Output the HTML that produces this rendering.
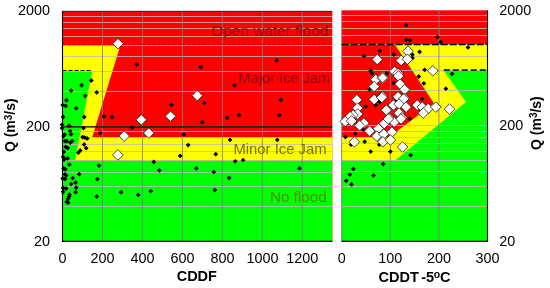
<!DOCTYPE html><html><head><meta charset="utf-8"><title>Ice jam flood chart</title>
<style>html,body{margin:0;padding:0;background:#fff}svg{display:block}text{font-family:"Liberation Sans",Arial,sans-serif}</style></head><body>
<svg width="550" height="288" viewBox="0 0 550 288">
<rect width="550" height="288" fill="#fff"/>
<rect x="62.5" y="11.2" width="269.8" height="230.10000000000002" fill="#f00"/>
<polygon fill="#ff0" points="62.5,45.6 120.3,45.6 92.2,137.2 332.3,137.2 332.3,160.8 62.5,160.8"/>
<polygon fill="#0f0" points="62.5,71 92.3,71 75,160.8 332.3,160.8 332.3,241.3 62.5,241.3"/>
<rect x="341.7" y="10.3" width="145.8" height="231.0" fill="#f00"/>
<polygon fill="#ff0" points="394.9,44.6 487.5,44.6 487.5,160.5 341.7,160.5 341.7,137.3 389.2,137.3 434,103.3"/>
<polygon fill="#0f0" points="443.5,70.3 487.5,70.3 487.5,241.3 341.7,241.3 341.7,160.5 395,160.5 466,102"/>
<g stroke="#bcbcbc" stroke-width="0.8">
<line x1="62.5" x2="332.3" y1="206.50" y2="206.50"/>
<line x1="341.7" x2="487.5" y1="206.50" y2="206.50"/>
<line x1="62.5" x2="332.3" y1="186.50" y2="186.50"/>
<line x1="341.7" x2="487.5" y1="186.50" y2="186.50"/>
<line x1="62.5" x2="332.3" y1="172.50" y2="172.50"/>
<line x1="341.7" x2="487.5" y1="171.50" y2="171.50"/>
<line x1="62.5" x2="332.3" y1="160.50" y2="160.50"/>
<line x1="341.7" x2="487.5" y1="160.50" y2="160.50"/>
<line x1="62.5" x2="332.3" y1="151.50" y2="151.50"/>
<line x1="341.7" x2="487.5" y1="151.50" y2="151.50"/>
<line x1="62.5" x2="332.3" y1="144.50" y2="144.50"/>
<line x1="341.7" x2="487.5" y1="143.50" y2="143.50"/>
<line x1="62.5" x2="332.3" y1="137.50" y2="137.50"/>
<line x1="341.7" x2="487.5" y1="137.50" y2="137.50"/>
<line x1="62.5" x2="332.3" y1="131.50" y2="131.50"/>
<line x1="341.7" x2="487.5" y1="131.50" y2="131.50"/>
<line x1="62.5" x2="332.3" y1="126.50" y2="126.50"/>
<line x1="341.7" x2="487.5" y1="125.50" y2="125.50"/>
<line x1="62.5" x2="332.3" y1="91.50" y2="91.50"/>
<line x1="341.7" x2="487.5" y1="90.50" y2="90.50"/>
<line x1="62.5" x2="332.3" y1="71.50" y2="71.50"/>
<line x1="341.7" x2="487.5" y1="70.50" y2="70.50"/>
<line x1="62.5" x2="332.3" y1="56.50" y2="56.50"/>
<line x1="341.7" x2="487.5" y1="56.50" y2="56.50"/>
<line x1="62.5" x2="332.3" y1="45.50" y2="45.50"/>
<line x1="341.7" x2="487.5" y1="44.50" y2="44.50"/>
<line x1="62.5" x2="332.3" y1="36.50" y2="36.50"/>
<line x1="341.7" x2="487.5" y1="35.50" y2="35.50"/>
<line x1="62.5" x2="332.3" y1="28.50" y2="28.50"/>
<line x1="341.7" x2="487.5" y1="28.50" y2="28.50"/>
<line x1="62.5" x2="332.3" y1="22.50" y2="22.50"/>
<line x1="341.7" x2="487.5" y1="21.50" y2="21.50"/>
<line x1="62.5" x2="332.3" y1="16.50" y2="16.50"/>
<line x1="341.7" x2="487.5" y1="15.50" y2="15.50"/>
</g>
<g stroke="#7e7e86" stroke-width="1" opacity="0.85">
<line x1="102.47" x2="102.47" y1="11.2" y2="241.3"/>
<line x1="142.44" x2="142.44" y1="11.2" y2="241.3"/>
<line x1="182.41" x2="182.41" y1="11.2" y2="241.3"/>
<line x1="222.38" x2="222.38" y1="11.2" y2="241.3"/>
<line x1="262.35" x2="262.35" y1="11.2" y2="241.3"/>
<line x1="302.32" x2="302.32" y1="11.2" y2="241.3"/>
<line x1="341.70" x2="341.70" y1="10.3" y2="241.3"/>
<line x1="390.30" x2="390.30" y1="10.3" y2="241.3"/>
<line x1="438.90" x2="438.90" y1="10.3" y2="241.3"/>
</g>
<text x="211.6" y="36.2" font-size="14.2" fill="#880010" textLength="116.9" lengthAdjust="spacingAndGlyphs">Open water flood</text>
<text x="238.6" y="83.1" font-size="14.2" fill="#880010" textLength="91.7" lengthAdjust="spacingAndGlyphs">Major Ice Jam</text>
<text x="233.4" y="154.2" font-size="14.2" fill="#787000" textLength="93.3" lengthAdjust="spacingAndGlyphs">Minor Ice Jam</text>
<text x="269.9" y="202.1" font-size="14.2" fill="#558c00" textLength="56.8" lengthAdjust="spacingAndGlyphs">No flood</text>
<line x1="62.5" x2="332.3" y1="44.8" y2="44.8" stroke="#400" stroke-width="0.6" stroke-dasharray="3 2" opacity="0.75"/>
<line x1="62.5" x2="92.3" y1="70.5" y2="70.5" stroke="#000" stroke-width="1.2" stroke-dasharray="4 2"/>
<line x1="62.5" x2="332.3" y1="126.8" y2="126.8" stroke="#000" stroke-width="1.3"/>
<line x1="341.7" x2="487.5" y1="44.5" y2="44.5" stroke="#000" stroke-width="1.5" stroke-dasharray="7 2"/>
<line x1="443.8" x2="487.5" y1="70.1" y2="70.1" stroke="#000" stroke-width="1.5" stroke-dasharray="6 3"/>
<line x1="62.0" x2="332.3" y1="10.75" y2="10.75" stroke="#c4d2d2" stroke-width="0.9"/>
<line x1="62.0" x2="332.3" y1="11.5" y2="11.5" stroke="#200" stroke-width="0.7"/>
<line x1="62.5" x2="62.5" y1="11.2" y2="241.9" stroke="#000" stroke-width="1.1"/>
<line x1="62.0" x2="332.3" y1="241.3" y2="241.3" stroke="#000" stroke-width="1.2"/>
<line x1="341.7" x2="488.0" y1="241.3" y2="241.3" stroke="#000" stroke-width="1.2"/>
<line x1="487.5" x2="487.5" y1="10.3" y2="241.9" stroke="#000" stroke-width="1.1"/>
<path fill="#000" d="M88.9,80.5L91.3,78.1L93.7,80.5L91.3,82.9ZM79.2,85.3L81.6,82.9L84.0,85.3L81.6,87.7ZM68.7,90.6L71.1,88.2L73.5,90.6L71.1,93.0ZM94.3,92.4L96.7,90.0L99.1,92.4L96.7,94.8ZM82.8,95.8L85.2,93.4L87.6,95.8L85.2,98.2ZM64.1,100.3L66.5,97.9L68.9,100.3L66.5,102.7ZM60.3,104.9L62.7,102.5L65.1,104.9L62.7,107.3ZM63.3,105.9L65.7,103.5L68.1,105.9L65.7,108.3ZM73.8,108.3L76.2,105.9L78.6,108.3L76.2,110.7ZM60.7,117.0L63.1,114.6L65.5,117.0L63.1,119.4ZM81.8,117.0L84.2,114.6L86.6,117.0L84.2,119.4ZM101.6,116.4L104.0,114.0L106.4,116.4L104.0,118.8ZM109.7,117.0L112.1,114.6L114.5,117.0L112.1,119.4ZM59.6,124.8L62.0,122.4L64.4,124.8L62.0,127.2ZM66.7,125.6L69.1,123.2L71.5,125.6L69.1,128.0ZM59.6,128.1L62.0,125.7L64.4,128.1L62.0,130.5ZM81.1,128.1L83.5,125.7L85.9,128.1L83.5,130.5ZM67.7,131.1L70.1,128.7L72.5,131.1L70.1,133.5ZM97.9,133.1L100.3,130.7L102.7,133.1L100.3,135.5ZM62.2,134.6L64.6,132.2L67.0,134.6L64.6,137.0ZM68.5,134.3L70.9,131.9L73.3,134.3L70.9,136.7ZM61.2,136.1L63.6,133.7L66.0,136.1L63.6,138.5ZM80.3,137.1L82.7,134.7L85.1,137.1L82.7,139.5ZM82.3,137.6L84.7,135.2L87.1,137.6L84.7,140.0ZM84.8,138.4L87.2,136.0L89.6,138.4L87.2,140.8ZM62.7,141.2L65.1,138.8L67.5,141.2L65.1,143.6ZM64.2,141.2L66.6,138.8L69.0,141.2L66.6,143.6ZM69.7,141.0L72.1,138.6L74.5,141.0L72.1,143.4ZM67.9,142.7L70.3,140.3L72.7,142.7L70.3,145.1ZM81.8,144.5L84.2,142.1L86.6,144.5L84.2,146.9ZM63.2,146.8L65.6,144.4L68.0,146.8L65.6,149.2ZM65.2,148.0L67.6,145.6L70.0,148.0L67.6,150.4ZM83.8,148.2L86.2,145.8L88.6,148.2L86.2,150.6ZM77.8,150.5L80.2,148.1L82.6,150.5L80.2,152.9ZM76.0,152.6L78.4,150.2L80.8,152.6L78.4,155.0ZM61.5,151.8L63.9,149.4L66.3,151.8L63.9,154.2ZM60.7,156.9L63.1,154.5L65.5,156.9L63.1,159.3ZM65.2,158.3L67.6,155.9L70.0,158.3L67.6,160.7ZM61.7,159.6L64.1,157.2L66.5,159.6L64.1,162.0ZM66.9,164.6L69.3,162.2L71.7,164.6L69.3,167.0ZM96.7,165.6L99.1,163.2L101.5,165.6L99.1,168.0ZM61.2,168.4L63.6,166.0L66.0,168.4L63.6,170.8ZM62.9,169.2L65.3,166.8L67.7,169.2L65.3,171.6ZM76.8,174.2L79.2,171.8L81.6,174.2L79.2,176.6ZM62.6,174.3L65.0,171.9L67.4,174.3L65.0,176.7ZM129.8,127.5L132.2,125.1L134.6,127.5L132.2,129.9ZM151.4,162.0L153.8,159.6L156.2,162.0L153.8,164.4ZM157.0,170.3L159.4,167.9L161.8,170.3L159.4,172.7ZM63.7,175.6L66.1,173.2L68.5,175.6L66.1,178.0ZM60.3,178.5L62.7,176.1L65.1,178.5L62.7,180.9ZM62.7,179.1L65.1,176.7L67.5,179.1L65.1,181.5ZM70.3,178.1L72.7,175.7L75.1,178.1L72.7,180.5ZM94.9,179.1L97.3,176.7L99.7,179.1L97.3,181.5ZM73.2,182.5L75.6,180.1L78.0,182.5L75.6,184.9ZM68.7,184.1L71.1,181.7L73.5,184.1L71.1,186.5ZM73.8,187.7L76.2,185.3L78.6,187.7L76.2,190.1ZM60.7,188.1L63.1,185.7L65.5,188.1L63.1,190.5ZM63.7,188.5L66.1,186.1L68.5,188.5L66.1,190.9ZM60.7,191.8L63.1,189.4L65.5,191.8L63.1,194.2ZM73.2,192.2L75.6,189.8L78.0,192.2L75.6,194.6ZM118.7,192.2L121.1,189.8L123.5,192.2L121.1,194.6ZM148.4,191.2L150.8,188.8L153.2,191.2L150.8,193.6ZM135.7,194.8L138.1,192.4L140.5,194.8L138.1,197.2ZM67.1,194.6L69.5,192.2L71.9,194.6L69.5,197.0ZM66.7,196.6L69.1,194.2L71.5,196.6L69.1,199.0ZM94.3,196.6L96.7,194.2L99.1,196.6L96.7,199.0ZM65.7,198.8L68.1,196.4L70.5,198.8L68.1,201.2ZM64.3,201.9L66.7,199.5L69.1,201.9L66.7,204.3ZM65.7,202.7L68.1,200.3L70.5,202.7L68.1,205.1ZM134.6,64.3L137.0,61.9L139.4,64.3L137.0,66.7ZM198.5,67.2L200.9,64.8L203.3,67.2L200.9,69.6ZM232.2,85.4L234.6,83.0L237.0,85.4L234.6,87.8ZM169.1,104.8L171.5,102.4L173.9,104.8L171.5,107.2ZM202.0,103.1L204.4,100.7L206.8,103.1L204.4,105.5ZM224.7,117.9L227.1,115.5L229.5,117.9L227.1,120.3ZM236.8,115.2L239.2,112.8L241.6,115.2L239.2,117.6ZM199.9,122.3L202.3,119.9L204.7,122.3L202.3,124.7ZM181.4,134.5L183.8,132.1L186.2,134.5L183.8,136.9ZM227.6,139.8L230.0,137.4L232.4,139.8L230.0,142.2ZM185.8,145.1L188.2,142.7L190.6,145.1L188.2,147.5ZM213.4,154.2L215.8,151.8L218.2,154.2L215.8,156.6ZM177.8,155.8L180.2,153.4L182.6,155.8L180.2,158.2ZM232.8,161.3L235.2,158.9L237.6,161.3L235.2,163.7ZM240.7,160.2L243.1,157.8L245.5,160.2L243.1,162.6ZM193.9,168.3L196.3,165.9L198.7,168.3L196.3,170.7ZM211.4,171.9L213.8,169.5L216.2,171.9L213.8,174.3ZM226.7,178.0L229.1,175.6L231.5,178.0L229.1,180.4ZM212.4,190.1L214.8,187.7L217.2,190.1L214.8,192.5ZM278.5,100.1L280.9,97.7L283.3,100.1L280.9,102.5ZM276.9,115.2L279.3,112.8L281.7,115.2L279.3,117.6ZM274.9,139.8L277.3,137.4L279.7,139.8L277.3,142.2ZM274.3,60.6L276.7,58.2L279.1,60.6L276.7,63.0ZM297.1,168.3L299.5,165.9L301.9,168.3L299.5,170.7ZM403.8,25.1L406.2,22.7L408.6,25.1L406.2,27.5ZM403.8,39.8L406.2,37.4L408.6,39.8L406.2,42.2ZM407.6,40.6L410.0,38.2L412.4,40.6L410.0,43.0ZM435.0,37.2L437.4,34.8L439.8,37.2L437.4,39.6ZM438.2,42.0L440.6,39.6L443.0,42.0L440.6,44.4ZM377.4,50.8L379.8,48.4L382.2,50.8L379.8,53.2ZM361.7,56.2L364.1,53.8L366.5,56.2L364.1,58.6ZM391.5,54.5L393.9,52.1L396.3,54.5L393.9,56.9ZM417.2,51.8L419.6,49.4L422.0,51.8L419.6,54.2ZM410.0,54.7L412.4,52.3L414.8,54.7L412.4,57.1ZM410.0,58.0L412.4,55.6L414.8,58.0L412.4,60.4ZM465.6,47.4L468.0,45.0L470.4,47.4L468.0,49.8ZM368.4,70.8L370.8,68.4L373.2,70.8L370.8,73.2ZM369.5,73.6L371.9,71.2L374.3,73.6L371.9,76.0ZM384.4,73.6L386.8,71.2L389.2,73.6L386.8,76.0ZM367.3,89.6L369.7,87.2L372.1,89.6L369.7,92.0ZM391.5,83.1L393.9,80.7L396.3,83.1L393.9,85.5ZM363.3,106.6L365.7,104.2L368.1,106.6L365.7,109.0ZM377.4,102.0L379.8,99.6L382.2,102.0L379.8,104.4ZM373.3,105.0L375.7,102.6L378.1,105.0L375.7,107.4ZM352.7,133.6L355.1,131.2L357.5,133.6L355.1,136.0ZM343.1,137.1L345.5,134.7L347.9,137.1L345.5,139.5ZM362.3,141.7L364.7,139.3L367.1,141.7L364.7,144.1ZM360.8,129.6L363.2,127.2L365.6,129.6L363.2,132.0ZM348.6,144.6L351.0,142.2L353.4,144.6L351.0,147.0ZM376.9,144.7L379.3,142.3L381.7,144.7L379.3,147.1ZM368.3,151.6L370.7,149.2L373.1,151.6L370.7,154.0ZM388.0,151.6L390.4,149.2L392.8,151.6L390.4,154.0ZM380.9,164.0L383.3,161.6L385.7,164.0L383.3,166.4ZM350.9,169.0L353.3,166.6L355.7,169.0L353.3,171.4ZM347.4,174.6L349.8,172.2L352.2,174.6L349.8,177.0ZM371.1,175.4L373.5,173.0L375.9,175.4L373.5,177.8ZM343.8,180.8L346.2,178.4L348.6,180.8L346.2,183.2ZM349.2,184.4L351.6,182.0L354.0,184.4L351.6,186.8ZM422.3,69.8L424.7,67.4L427.1,69.8L424.7,72.2ZM416.3,76.5L418.7,74.1L421.1,76.5L418.7,78.9ZM421.5,83.4L423.9,81.0L426.3,83.4L423.9,85.8ZM443.5,88.7L445.9,86.3L448.3,88.7L445.9,91.1ZM419.7,99.0L422.1,96.6L424.5,99.0L422.1,101.4ZM407.4,118.9L409.8,116.5L412.2,118.9L409.8,121.3ZM393.1,101.0L395.5,98.6L397.9,101.0L395.5,103.4ZM408.2,155.1L410.6,152.7L413.0,155.1L410.6,157.5ZM449.7,73.8L452.1,71.4L454.5,73.8L452.1,76.2Z"/>
<g fill="#fff" stroke="#000" stroke-width="0.7">
<path d="M112.7,43.7L118.0,38.4L123.3,43.7L118.0,49.0Z"/>
<path d="M136.0,119.8L141.3,114.5L146.6,119.8L141.3,125.1Z"/>
<path d="M118.9,136.1L124.2,130.8L129.5,136.1L124.2,141.4Z"/>
<path d="M143.5,133.1L148.8,127.8L154.1,133.1L148.8,138.4Z"/>
<path d="M112.6,154.9L117.9,149.6L123.2,154.9L117.9,160.2Z"/>
<path d="M192.0,95.6L197.3,90.3L202.6,95.6L197.3,100.9Z"/>
<path d="M165.2,116.3L170.5,111.0L175.8,116.3L170.5,121.6Z"/>
<path d="M372.0,59.5L377.3,54.2L382.6,59.5L377.3,64.8Z"/>
<path d="M402.7,51.2L408.0,45.9L413.3,51.2L408.0,56.5Z"/>
<path d="M395.9,60.5L401.2,55.2L406.5,60.5L401.2,65.8Z"/>
<path d="M402.1,59.3L407.4,54.0L412.7,59.3L407.4,64.6Z"/>
<path d="M389.2,71.5L394.5,66.2L399.8,71.5L394.5,76.8Z"/>
<path d="M427.5,70.8L432.8,65.5L438.1,70.8L432.8,76.1Z"/>
<path d="M370.4,79.6L375.7,74.3L381.0,79.6L375.7,84.9Z"/>
<path d="M368.9,86.6L374.2,81.3L379.5,86.6L374.2,91.9Z"/>
<path d="M377.0,96.2L382.3,90.9L387.6,96.2L382.3,101.5Z"/>
<path d="M368.9,99.5L374.2,94.2L379.5,99.5L374.2,104.8Z"/>
<path d="M351.5,99.8L356.8,94.5L362.1,99.8L356.8,105.1Z"/>
<path d="M392.7,73.5L398.0,68.2L403.3,73.5L398.0,78.8Z"/>
<path d="M393.2,76.0L398.5,70.7L403.8,76.0L398.5,81.3Z"/>
<path d="M394.7,84.1L400.0,78.8L405.3,84.1L400.0,89.4Z"/>
<path d="M399.3,89.6L404.6,84.3L409.9,89.6L404.6,94.9Z"/>
<path d="M392.7,96.8L398.0,91.5L403.3,96.8L398.0,102.1Z"/>
<path d="M399.3,98.4L404.6,93.1L409.9,98.4L404.6,103.7Z"/>
<path d="M376.5,97.5L381.8,92.2L387.1,97.5L381.8,102.8Z"/>
<path d="M352.3,108.1L357.6,102.8L362.9,108.1L357.6,113.4Z"/>
<path d="M381.0,110.1L386.3,104.8L391.6,110.1L386.3,115.4Z"/>
<path d="M388.1,105.1L393.4,99.8L398.7,105.1L393.4,110.4Z"/>
<path d="M352.3,114.1L357.6,108.8L362.9,114.1L357.6,119.4Z"/>
<path d="M347.8,115.1L353.1,109.8L358.4,115.1L353.1,120.4Z"/>
<path d="M344.8,116.7L350.1,111.4L355.4,116.7L350.1,122.0Z"/>
<path d="M339.9,121.4L345.2,116.1L350.5,121.4L345.2,126.7Z"/>
<path d="M358.6,123.1L363.9,117.8L369.2,123.1L363.9,128.4Z"/>
<path d="M384.0,118.2L389.3,112.9L394.6,118.2L389.3,123.5Z"/>
<path d="M379.0,123.6L384.3,118.3L389.6,123.6L384.3,128.9Z"/>
<path d="M388.9,122.2L394.2,116.9L399.5,122.2L394.2,127.5Z"/>
<path d="M346.3,121.0L351.6,115.7L356.9,121.0L351.6,126.3Z"/>
<path d="M354.3,125.6L359.6,120.3L364.9,125.6L359.6,130.9Z"/>
<path d="M364.4,131.1L369.7,125.8L375.0,131.1L369.7,136.4Z"/>
<path d="M373.0,128.6L378.3,123.3L383.6,128.6L378.3,133.9Z"/>
<path d="M371.5,136.1L376.8,130.8L382.1,136.1L376.8,141.4Z"/>
<path d="M378.5,134.1L383.8,128.8L389.1,134.1L383.8,139.4Z"/>
<path d="M386.6,132.1L391.9,126.8L397.2,132.1L391.9,137.4Z"/>
<path d="M349.1,141.9L354.4,136.6L359.7,141.9L354.4,147.2Z"/>
<path d="M377.5,141.8L382.8,136.5L388.1,141.8L382.8,147.1Z"/>
<path d="M385.1,140.0L390.4,134.7L395.7,140.0L390.4,145.3Z"/>
<path d="M383.0,119.0L388.3,113.7L393.6,119.0L388.3,124.3Z"/>
<path d="M398.3,99.0L403.6,93.7L408.9,99.0L403.6,104.3Z"/>
<path d="M393.7,104.1L399.0,98.8L404.3,104.1L399.0,109.4Z"/>
<path d="M400.8,107.1L406.1,101.8L411.4,107.1L406.1,112.4Z"/>
<path d="M411.9,105.1L417.2,99.8L422.5,105.1L417.2,110.4Z"/>
<path d="M416.9,107.1L422.2,101.8L427.5,107.1L422.2,112.4Z"/>
<path d="M422.9,108.6L428.2,103.3L433.5,108.6L428.2,113.9Z"/>
<path d="M430.5,107.1L435.8,101.8L441.1,107.1L435.8,112.4Z"/>
<path d="M417.9,113.1L423.2,107.8L428.5,113.1L423.2,118.4Z"/>
<path d="M393.7,113.1L399.0,107.8L404.3,113.1L399.0,118.4Z"/>
<path d="M396.7,117.7L402.0,112.4L407.3,117.7L402.0,123.0Z"/>
<path d="M444.2,109.1L449.5,103.8L454.8,109.1L449.5,114.4Z"/>
<path d="M395.7,119.0L401.0,113.7L406.3,119.0L401.0,124.3Z"/>
<path d="M397.3,147.0L402.6,141.7L407.9,147.0L402.6,152.3Z"/>
</g>
<path d="M377.3,77.8L382.6,72.5L387.9,77.8L382.6,83.1Z" fill="#fff" stroke="#6e6e6e" stroke-width="1.4"/>
<g font-size="14.4" fill="#000">
<text x="50.1" y="15" text-anchor="end">2000</text>
<text x="50.1" y="130.5" text-anchor="end">200</text>
<text x="50.1" y="245.7" text-anchor="end">20</text>
<text x="499.2" y="14.6">2000</text>
<text x="499.2" y="130.2">200</text>
<text x="499.2" y="245.6">20</text>
<text x="62.5" y="262.7" text-anchor="middle">0</text>
<text x="102.5" y="262.7" text-anchor="middle">200</text>
<text x="142.4" y="262.7" text-anchor="middle">400</text>
<text x="182.4" y="262.7" text-anchor="middle">600</text>
<text x="222.4" y="262.7" text-anchor="middle">800</text>
<text x="262.4" y="262.7" text-anchor="middle">1000</text>
<text x="302.3" y="262.7" text-anchor="middle">1200</text>
<text x="341.7" y="262.7" text-anchor="middle">0</text>
<text x="390.3" y="262.7" text-anchor="middle">100</text>
<text x="438.9" y="262.7" text-anchor="middle">200</text>
<text x="487.5" y="262.7" text-anchor="middle">300</text>
</g>
<g font-size="14.5" font-weight="bold" fill="#000">
<text x="196.8" y="280.6" text-anchor="middle">CDDF</text>
<text x="378.6" y="281.5">CDDT<tspan dx="3.2">-5</tspan><tspan font-size="10.5" dy="-3.9" dx="-0.4">o</tspan><tspan dy="3.9" dx="-0.3">C</tspan></text>
<text transform="translate(15.4,125.2) rotate(-90)" text-anchor="middle" font-size="14">Q (m<tspan font-size="10" dy="-3.8">3</tspan><tspan dy="3.8">/s)</tspan></text>
<text transform="translate(540.8,123.1) rotate(-90)" text-anchor="middle" font-size="14">Q (m<tspan font-size="10" dy="-3.8">3</tspan><tspan dy="3.8">/s)</tspan></text>
</g>
</svg></body></html>
